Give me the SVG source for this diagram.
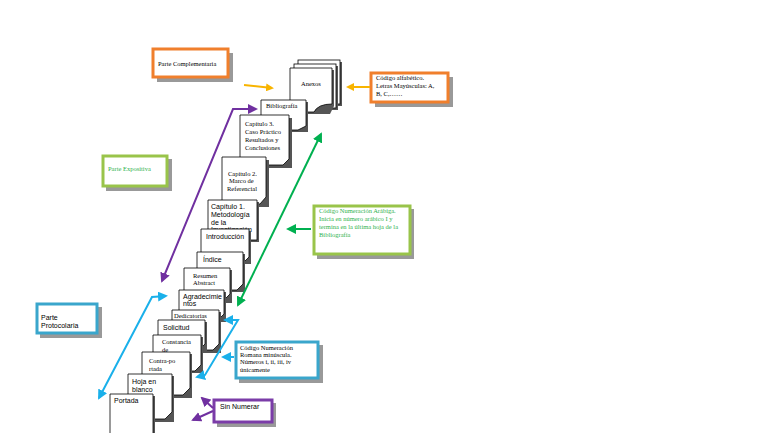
<svg xmlns="http://www.w3.org/2000/svg" width="768" height="433" viewBox="0 0 768 433">
<defs>
<style>
.pg{fill:#fff;stroke:#000;stroke-width:0.8}
.sh{fill:#555}
.t{font-family:"Liberation Serif",serif;font-size:6.5px;fill:#000}
.ts{font-family:"Liberation Sans",sans-serif;font-size:7px;fill:#000}
.bs{fill:#999}
.bx{fill:#fff;stroke-width:3}
.in{fill:none;stroke:#fff;stroke-width:1}
.c{fill:none;stroke-width:2}
</style>
<marker id="mo" markerWidth="8" markerHeight="8" refX="6" refY="4" orient="auto" markerUnits="userSpaceOnUse"><path d="M0,0L8,4L0,8Z" fill="#f8b400"/></marker>
<marker id="mp" markerWidth="10" markerHeight="10" refX="8" refY="5" orient="auto-start-reverse" markerUnits="userSpaceOnUse"><path d="M0,0L10,5L0,10Z" fill="#7030a0"/></marker>
<marker id="mg" markerWidth="10" markerHeight="10" refX="8" refY="5" orient="auto-start-reverse" markerUnits="userSpaceOnUse"><path d="M0,0L10,5L0,10Z" fill="#00b050"/></marker>
<marker id="mb" markerWidth="10" markerHeight="10" refX="8" refY="5" orient="auto-start-reverse" markerUnits="userSpaceOnUse"><path d="M0,0L10,5L0,10Z" fill="#1ab0ea"/></marker>
</defs>
<rect width="768" height="433" fill="#fff"/>

<g id="anexos">
<rect class="sh" x="300" y="62" width="42" height="44"/><rect class="pg" x="298" y="60" width="42" height="44"/>
<rect class="sh" x="296" y="66" width="42" height="44"/><rect class="pg" x="294" y="64" width="42" height="44"/>
<path class="sh" d="M292,70H334V106L330,114H292Z"/>
<path class="pg" d="M290,68H332V104Q318,104 314,112H290Z"/>
<text class="t" x="301" y="86">Anexos</text>
</g>
<g id="bibliografia">
<rect class="sh" x="263" y="102" width="45" height="30"/><path class="pg" d="M261,100H306V126L298,130H261Z"/>
<text class="t" x="266" y="108">Bibliografía</text>
</g>
<g id="cap3">
<rect class="sh" x="243" y="118" width="49" height="50"/><path class="pg" d="M240,115H289V159L283,165H240Z"/>
<text class="t"><tspan x="245" y="126">Capítulo 3.</tspan><tspan x="245" y="134">Caso Práctico</tspan><tspan x="245" y="142">Resultados y</tspan><tspan x="245" y="150">Conclusiones</tspan></text>
</g>
<g id="cap2">
<rect class="sh" x="225" y="160" width="44" height="47"/><path class="pg" d="M222,157H266V197L260,204H222Z"/>
<text class="t"><tspan x="228" y="176">Capítulo 2.</tspan><tspan x="229" y="183">Marco de</tspan><tspan x="227" y="191">Referencial</tspan></text>
</g>
<g id="cap1">
<rect class="sh" x="210" y="202" width="49" height="40"/><path class="pg" d="M208,200H257V240H208Z"/>
<text class="ts"><tspan x="211" y="209">Capítulo 1.</tspan><tspan x="211" y="217">Metodología</tspan><tspan x="211" y="225">de la</tspan><tspan x="211" y="232">Investigación</tspan></text>
</g>
<g id="introduccion">
<rect class="sh" x="203" y="231" width="48" height="33"/><path class="pg" d="M201,229H249V257L244,262H201Z"/>
<text class="ts" x="206" y="239">Introducción</text>
</g>
<g id="indice">
<rect class="sh" x="199" y="254" width="46" height="38"/><path class="pg" d="M197,252H243V284L237,290H197Z"/>
<text class="ts" x="203" y="262">Índice</text>
</g>
<g id="resumen">
<rect class="sh" x="186" y="270" width="46" height="33"/><path class="pg" d="M184,268H230V294L224,300H184Z"/>
<text class="t"><tspan x="193" y="278">Resumen</tspan><tspan x="193" y="285">Abstract</tspan></text>
</g>
<g id="agradecimientos">
<rect class="sh" x="181" y="292" width="45" height="30"/><path class="pg" d="M179,290H224V314L218,320H179Z"/>
<text class="ts"><tspan x="183" y="299">Agradecimie</tspan><tspan x="183" y="306">ntos</tspan></text>
</g>
<g id="dedicatorias">
<rect class="sh" x="174" y="312" width="47" height="41"/><path class="pg" d="M172,310H219V344L213,350H172Z"/>
<text class="t" x="174" y="318">Dedicatorias</text>
</g>
<g id="solicitud">
<rect class="sh" x="160" y="322" width="47" height="30"/><path class="pg" d="M158,320H205V344L199,350H158Z"/>
<text class="ts" x="163" y="330">Solicitud</text>
</g>
<g id="constancia">
<rect class="sh" x="155" y="337" width="48" height="36"/><path class="pg" d="M153,335H201V365L195,371H153Z"/>
<text class="t"><tspan x="162" y="344">Constancia</tspan><tspan x="162" y="352">de</tspan></text>
</g>
<g id="contraportada">
<rect class="sh" x="144" y="354" width="48" height="44"/><path class="pg" d="M142,352H190V388L183,395H142Z"/>
<text class="t"><tspan x="149" y="363">Contra-po</tspan><tspan x="149" y="371">rtada</tspan></text>
</g>
<g id="hojablanco">
<rect class="sh" x="130" y="376" width="44" height="46"/><path class="pg" d="M128,374H172V412L165,419H128Z"/>
<text class="ts"><tspan x="132" y="384">Hoja en</tspan><tspan x="132" y="392">blanco</tspan></text>
</g>
<g id="portada">
<rect class="sh" x="112" y="396" width="43" height="40"/><path class="pg" d="M110,394H153V440H110Z"/>
<text class="ts" x="114" y="403">Portada</text>
</g>

<g id="parte-complementaria"><rect class="bs" x="157" y="53" width="76" height="29"/><rect class="bx" x="153" y="49" width="75" height="28" stroke="#f07f2c"/><rect class="in" x="156" y="52" width="69" height="22"/><text class="t" x="158" y="66">Parte  Complementaria</text></g>
<g id="codigo-alfabetico"><rect class="bs" x="375" y="77" width="78" height="30"/><rect class="bx" x="371" y="73" width="77" height="29" stroke="#f07f2c"/><rect class="in" x="374" y="76" width="71" height="23"/><text class="t"><tspan x="376" y="80">Código alfabético.</tspan><tspan x="376" y="88">Letras Mayúsculas: A,</tspan><tspan x="376" y="96">B, C,……</tspan></text></g>
<g id="parte-expositiva"><rect class="bs" x="106" y="159" width="66" height="32"/><rect class="bx" x="103" y="156" width="64" height="30" stroke="#99c44a"/><rect class="in" x="106" y="159" width="58" height="24"/><text class="t" x="108" y="171" style="fill:#2fb24e">Parte Expositiva</text></g>
<g id="codigo-arabiga"><rect class="bs" x="317" y="209" width="97" height="50"/><rect class="bx" x="314" y="206" width="96" height="48" stroke="#99c44a"/><rect class="in" x="317" y="209" width="90" height="42"/><text class="t" style="fill:#2fb24e"><tspan x="319" y="213">Código Numeración Arábiga.</tspan><tspan x="319" y="221">Inicia en número arábico I y</tspan><tspan x="319" y="229">termina en la última hoja de la</tspan><tspan x="319" y="237">Bibliografía</tspan></text></g>
<g id="parte-protocolaria"><rect class="bs" x="40" y="307" width="62" height="31"/><rect class="bx" x="37" y="304" width="60" height="29" stroke="#3aa6cc"/><rect class="in" x="40" y="307" width="54" height="23"/><text class="ts"><tspan x="41" y="320">Parte</tspan><tspan x="41" y="328">Protocolaria</tspan></text></g>
<g id="codigo-romana"><rect class="bs" x="239" y="345" width="84" height="38"/><rect class="bx" x="236" y="342" width="82" height="36" stroke="#3aa6cc"/><rect class="in" x="239" y="345" width="76" height="30"/><text class="t"><tspan x="240" y="350">Código Numeración</tspan><tspan x="240" y="357">Romana minúscula.</tspan><tspan x="240" y="364">Números i, ii, iii, iv</tspan><tspan x="240" y="372">únicamente</tspan></text></g>
<g id="sin-numerar"><rect class="bs" x="217" y="403" width="59" height="24"/><rect class="bx" x="214" y="400" width="58" height="22" stroke="#7b3ca8"/><rect class="in" x="217" y="403" width="52" height="16"/><text class="ts" x="220" y="409">Sin Numerar</text></g>

<g id="connectors">
<line class="c" stroke="#f8b400" x1="244" y1="85" x2="272" y2="88" marker-end="url(#mo)"/>
<line class="c" stroke="#f8b400" x1="370" y1="87" x2="348" y2="87" marker-end="url(#mo)"/>
<polyline class="c" stroke="#7030a0" points="162,281 233,109 256,109" marker-start="url(#mp)" marker-end="url(#mp)"/>
<line class="c" stroke="#00b050" x1="238" y1="305" x2="321" y2="134" marker-start="url(#mg)" marker-end="url(#mg)"/>
<line class="c" stroke="#00b050" x1="311" y1="229" x2="288" y2="229" marker-end="url(#mg)"/>
<polyline class="c" stroke="#1ab0ea" points="99,398 152,297 166,296" marker-start="url(#mb)" marker-end="url(#mb)"/>
<polyline class="c" stroke="#1ab0ea" points="225,320 238,320 205,375 197,377" marker-start="url(#mb)" marker-end="url(#mb)"/>
<line class="c" stroke="#1ab0ea" x1="234" y1="357" x2="223" y2="357" marker-end="url(#mb)"/>
<line class="c" stroke="#7030a0" x1="213" y1="408" x2="202" y2="398" marker-end="url(#mp)"/>
<line class="c" stroke="#7030a0" x1="213" y1="411" x2="193" y2="420" marker-end="url(#mp)"/>
</g>
</svg>
